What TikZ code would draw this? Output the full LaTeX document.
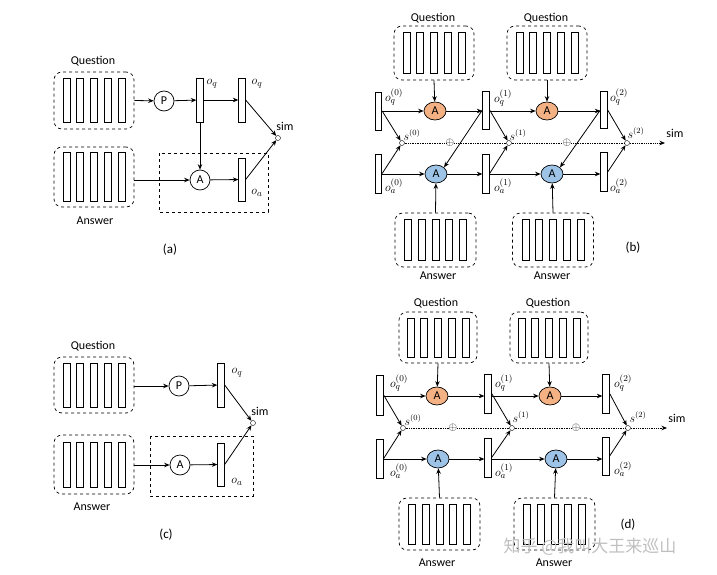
\documentclass[tikz,border=0pt]{standalone}
\usepackage{fontspec}
\setmainfont{Carlito}
\usepackage{amsmath}
\usetikzlibrary{shapes.geometric,arrows.meta}
\definecolor{aor}{HTML}{F4B183}
\definecolor{abl}{HTML}{9DC3E6}
\tikzset{
 bar/.style={draw,rectangle,minimum width=6.5,inner sep=0,line width=0.8pt},
 seq/.style={draw,dashed,rounded corners=8,inner sep=0,line width=0.7pt},
 cir/.style={draw,circle,minimum size=20,inner sep=0,line width=0.7pt,font=\fontsize{12}{13}\selectfont},
 att/.style={draw,ellipse,minimum width=22,minimum height=18,inner sep=0,line width=0.7pt,font=\fontsize{12}{13}\selectfont},
 dot/.style={draw,circle,minimum size=5,inner sep=0,fill=white},
 arr/.style={-{Stealth[length=5.5,width=4.5]},line width=0.8pt},
 lab/.style={font=\fontsize{12}{14}\selectfont},
 mlab/.style={font=\fontsize{13}{15}\selectfont,inner sep=0},
 slab/.style={font=\fontsize{12}{14}\selectfont,inner sep=0},
 plus/.style={inner sep=0,font=\fontsize{11}{12}\selectfont},
 dbox/.style={draw,dashed,line width=0.7pt}
}
% #1 name, #2 x, #3 y, #4 width, #5 height, #6 bar height
\newcommand\seqb[6]{%
 \node[seq,minimum width=#4,minimum height=#5] (#1) at (#2,#3) {};
 \foreach \k in {-2,...,2}{\draw[line width=0.8pt] ({#2+\k*13.75-3.5},{#3-#6/2}) rectangle ({#2+\k*13.75+3.5},{#3+#6/2});}}
\begin{document}
\begin{tikzpicture}[x=1pt,y=-1pt]
\useasboundingbox (0,0) rectangle (717,575);
% ---------------- (a)
\seqb{qa}{94}{100.5}{80}{57}{44}
\seqb{aa}{94}{177}{80}{60}{49}
\node[lab] at (93,61) {Question};
\node[lab] at (95,221) {Answer};
\node[cir] (Pa) at (164,101) {P};
\node[bar,minimum height=44] (oq1a) at (200,100) {};
\node[bar,minimum height=44] (oq2a) at (242,100) {};
\node[mlab] at (212,84) {$o_q$};
\node[mlab] at (257,84) {$o_q$};
\node[dot] (sima) at (278,138) {};
\node[lab,inner sep=0] at (285,126) {sim};
\node[cir] (Aa) at (200,180) {A};
\node[bar,minimum height=43] (oaa) at (242,179.5) {};
\node[mlab] at (257,193) {$o_a$};
\draw[dbox] (159,153) rectangle (268,212);
\draw[arr] (qa.east) -- (Pa);
\draw[arr] (Pa) -- (oq1a);
\draw[arr] (oq1a) -- (oq2a);
\draw[arr] (oq1a.south) -- (Aa);
\draw[arr] (aa.east |- Aa) -- (Aa);
\draw[arr] (Aa) -- (oaa);
\draw[arr] (oq2a.east) -- (sima);
\draw[arr] (oaa.east) -- (sima);
\node[font=\fontsize{13}{15}\selectfont] at (170,250) {(a)};
% ---------------- (c)
\seqb{qc}{94}{385}{80}{56}{44}
\seqb{ac}{94}{464.5}{80}{59}{45}
\node[lab] at (93,346) {Question};
\node[lab] at (92,507) {Answer};
\node[cir] (Pc) at (179,386) {P};
\node[bar,minimum height=44] (oqc) at (221,385) {};
\node[mlab] at (237,373) {$o_q$};
\node[dot] (simc) at (253,423) {};
\node[lab,inner sep=0] at (260,411) {sim};
\node[cir] (Ac) at (180,465) {A};
\node[bar,minimum height=43] (oac) at (221,464.5) {};
\node[mlab] at (237,482) {$o_a$};
\draw[dbox] (150,436) rectangle (253,496);
\draw[arr] (qc.east |- Pc) -- (Pc);
\draw[arr] (Pc) -- (oqc);
\draw[arr] (ac.east |- Ac) -- (Ac);
\draw[arr] (Ac) -- (oac);
\draw[arr] (oqc.east) -- (simc);
\draw[arr] (oac.east) -- (simc);
\node[font=\fontsize{13}{15}\selectfont] at (166,535) {(c)};
% ---------------- (b)
\seqb{qb1}{434}{53}{80}{54}{41}
\seqb{qb2}{547}{53}{80}{54}{41}
\seqb{ab1}{435.5}{240}{81}{54}{41}
\seqb{ab2}{553}{240}{81}{54}{41}
\node[lab] at (433,18) {Question};
\node[lab] at (546,18) {Question};
\node[lab] at (438,276) {Answer};
\node[lab] at (552,276) {Answer};
\node[bar,minimum height=38] (boq0) at (378.5,111) {};
\node[bar,minimum height=38] (boq1) at (486,110) {};
\node[bar,minimum height=37] (boq2) at (604,110) {};
\node[bar,minimum height=39] (boa0) at (378.5,173.5) {};
\node[bar,minimum height=39] (boa1) at (486,173.5) {};
\node[bar,minimum height=39] (boa2) at (604,172) {};
\node[att,fill=aor] (bAq1) at (435,111) {A};
\node[att,fill=aor] (bAq2) at (547,111) {A};
\node[att,fill=abl] (bAa1) at (436,174) {A};
\node[att,fill=abl] (bAa2) at (552,174) {A};
\node[dot] (bs0) at (402,143) {};
\node[dot] (bs1) at (509,143) {};
\node[dot] (bs2) at (627,143) {};
\coordinate (bend) at (665,143);
\node[mlab] at (394,97) {$o_q^{(0)}$};
\node[mlab] at (503,98) {$o_q^{(1)}$};
\node[mlab] at (619,97) {$o_q^{(2)}$};
\node[mlab] at (394,186) {$o_a^{(0)}$};
\node[mlab] at (503,186) {$o_a^{(1)}$};
\node[mlab] at (619,186) {$o_a^{(2)}$};
\node[slab] at (412,135) {$s^{(0)}$};
\node[slab] at (518,135) {$s^{(1)}$};
\node[slab] at (636,133) {$s^{(2)}$};
\node[lab,inner sep=0] at (675,133) {sim};
\node[plus] (bp1) at (450,143) {$\oplus$};
\node[plus] (bp2) at (567,143) {$\oplus$};
\draw[densely dotted,line width=0.7pt] (bs0) -- (bp1) -- (bs1) -- (bp2) -- (bs2);
\draw[densely dotted,arr] (bs2) -- (bend);
\draw[arr] (qb1.south) -- (bAq1);
\draw[arr] (qb2.south) -- (bAq2);
\draw[arr] (ab1.north) -- (bAa1);
\draw[arr] (ab2.north) -- (bAa2);
\draw[arr] (boq0.east) -- (bAq1);
\draw[arr] (bAq1) -- (boq1.west |- bAq1);
\draw[arr] (boq1.east |- bAq1) -- (bAq2);
\draw[arr] (bAq2) -- (boq2.west |- bAq2);
\draw[arr] (boa0.east |- bAa1) -- (bAa1);
\draw[arr] (bAa1) -- (boa1.west |- bAa1);
\draw[arr] (boa1.east |- bAa1) -- (bAa2);
\draw[arr] (bAa2) -- (boa2.west |- bAa2);
\draw[arr] (boq1.west) -- (bAa1.north east);
\draw[arr] (boq2.west) -- (bAa2.north east);
\draw[arr] (boq0.east) -- (bs0);
\draw[arr] (boa0.east) -- (bs0);
\draw[arr] (boq1.east) -- (bs1);
\draw[arr] (boa1.east) -- (bs1);
\draw[arr] (boq2.east) -- (bs2);
\draw[arr] (boa2.east) -- (bs2);
\node[font=\fontsize{13}{15}\selectfont] at (633,248) {(b)};
% ---------------- (d)
\seqb{qd1}{438}{337.5}{78}{51}{39}
\seqb{qd2}{549}{337.5}{78}{51}{39}
\seqb{ad1}{439.5}{524}{81}{52}{40}
\seqb{ad2}{554.5}{524}{81}{52}{40}
\node[lab] at (436,303) {Question};
\node[lab] at (548,303) {Question};
\node[lab] at (437,563) {Answer};
\node[lab] at (554,563) {Answer};
\node[bar,minimum height=40] (doq0) at (380,395) {};
\node[bar,minimum height=39] (doq1) at (488,393.5) {};
\node[bar,minimum height=39] (doq2) at (606,393.5) {};
\node[bar,minimum height=39] (doa0) at (380,458.5) {};
\node[bar,minimum height=39] (doa1) at (488,457.5) {};
\node[bar,minimum height=38] (doa2) at (606,456) {};
\node[att,fill=aor] (dAq1) at (437,396) {A};
\node[att,fill=aor] (dAq2) at (550,396) {A};
\node[att,fill=abl] (dAa1) at (438,459) {A};
\node[att,fill=abl] (dAa2) at (556,459) {A};
\node[dot] (ds0) at (403,428) {};
\node[dot] (ds1) at (512,428) {};
\node[dot] (ds2) at (628,428) {};
\coordinate (dend) at (667,428);
\node[mlab] at (399,383) {$o_q^{(0)}$};
\node[mlab] at (504,383) {$o_q^{(1)}$};
\node[mlab] at (623,383) {$o_q^{(2)}$};
\node[mlab] at (399,471) {$o_a^{(0)}$};
\node[mlab] at (504,471) {$o_a^{(1)}$};
\node[mlab] at (623,469) {$o_a^{(2)}$};
\node[slab] at (413,420) {$s^{(0)}$};
\node[slab] at (521,417) {$s^{(1)}$};
\node[slab] at (638,417) {$s^{(2)}$};
\node[lab,inner sep=0] at (677,418) {sim};
\node[plus] (dp1) at (453,428) {$\oplus$};
\node[plus] (dp2) at (576,428) {$\oplus$};
\draw[densely dotted,line width=0.7pt] (ds0) -- (dp1) -- (ds1) -- (dp2) -- (ds2);
\draw[densely dotted,arr] (ds2) -- (dend);
\draw[arr] (qd1.south) -- (dAq1);
\draw[arr] (qd2.south) -- (dAq2);
\draw[arr] (ad1.north) -- (dAa1);
\draw[arr] (ad2.north) -- (dAa2);
\draw[arr] (doq0.east |- dAq1) -- (dAq1);
\draw[arr] (dAq1) -- (doq1.west |- dAq1);
\draw[arr] (doq1.east |- dAq1) -- (dAq2);
\draw[arr] (dAq2) -- (doq2.west |- dAq2);
\draw[arr] (doa0.east |- dAa1) -- (dAa1);
\draw[arr] (dAa1) -- (doa1.west |- dAa1);
\draw[arr] (doa1.east |- dAa1) -- (dAa2);
\draw[arr] (dAa2) -- (doa2.west |- dAa2);
\draw[arr] (doq0.east) -- (ds0);
\draw[arr] (doa0.east) -- (ds0);
\draw[arr] (doq1.east) -- (ds1);
\draw[arr] (doa1.east) -- (ds1);
\draw[arr] (doq2.east) -- (ds2);
\draw[arr] (doa2.east) -- (ds2);
\node[font=\fontsize{13}{15}\selectfont] at (628,525) {(d)};
\node[font={\fontspec{Noto Sans CJK SC}\fontsize{17}{19}\selectfont},text=black!25] at (590,547) {知乎 @我叫大王来巡山};
\end{tikzpicture}
\end{document}
